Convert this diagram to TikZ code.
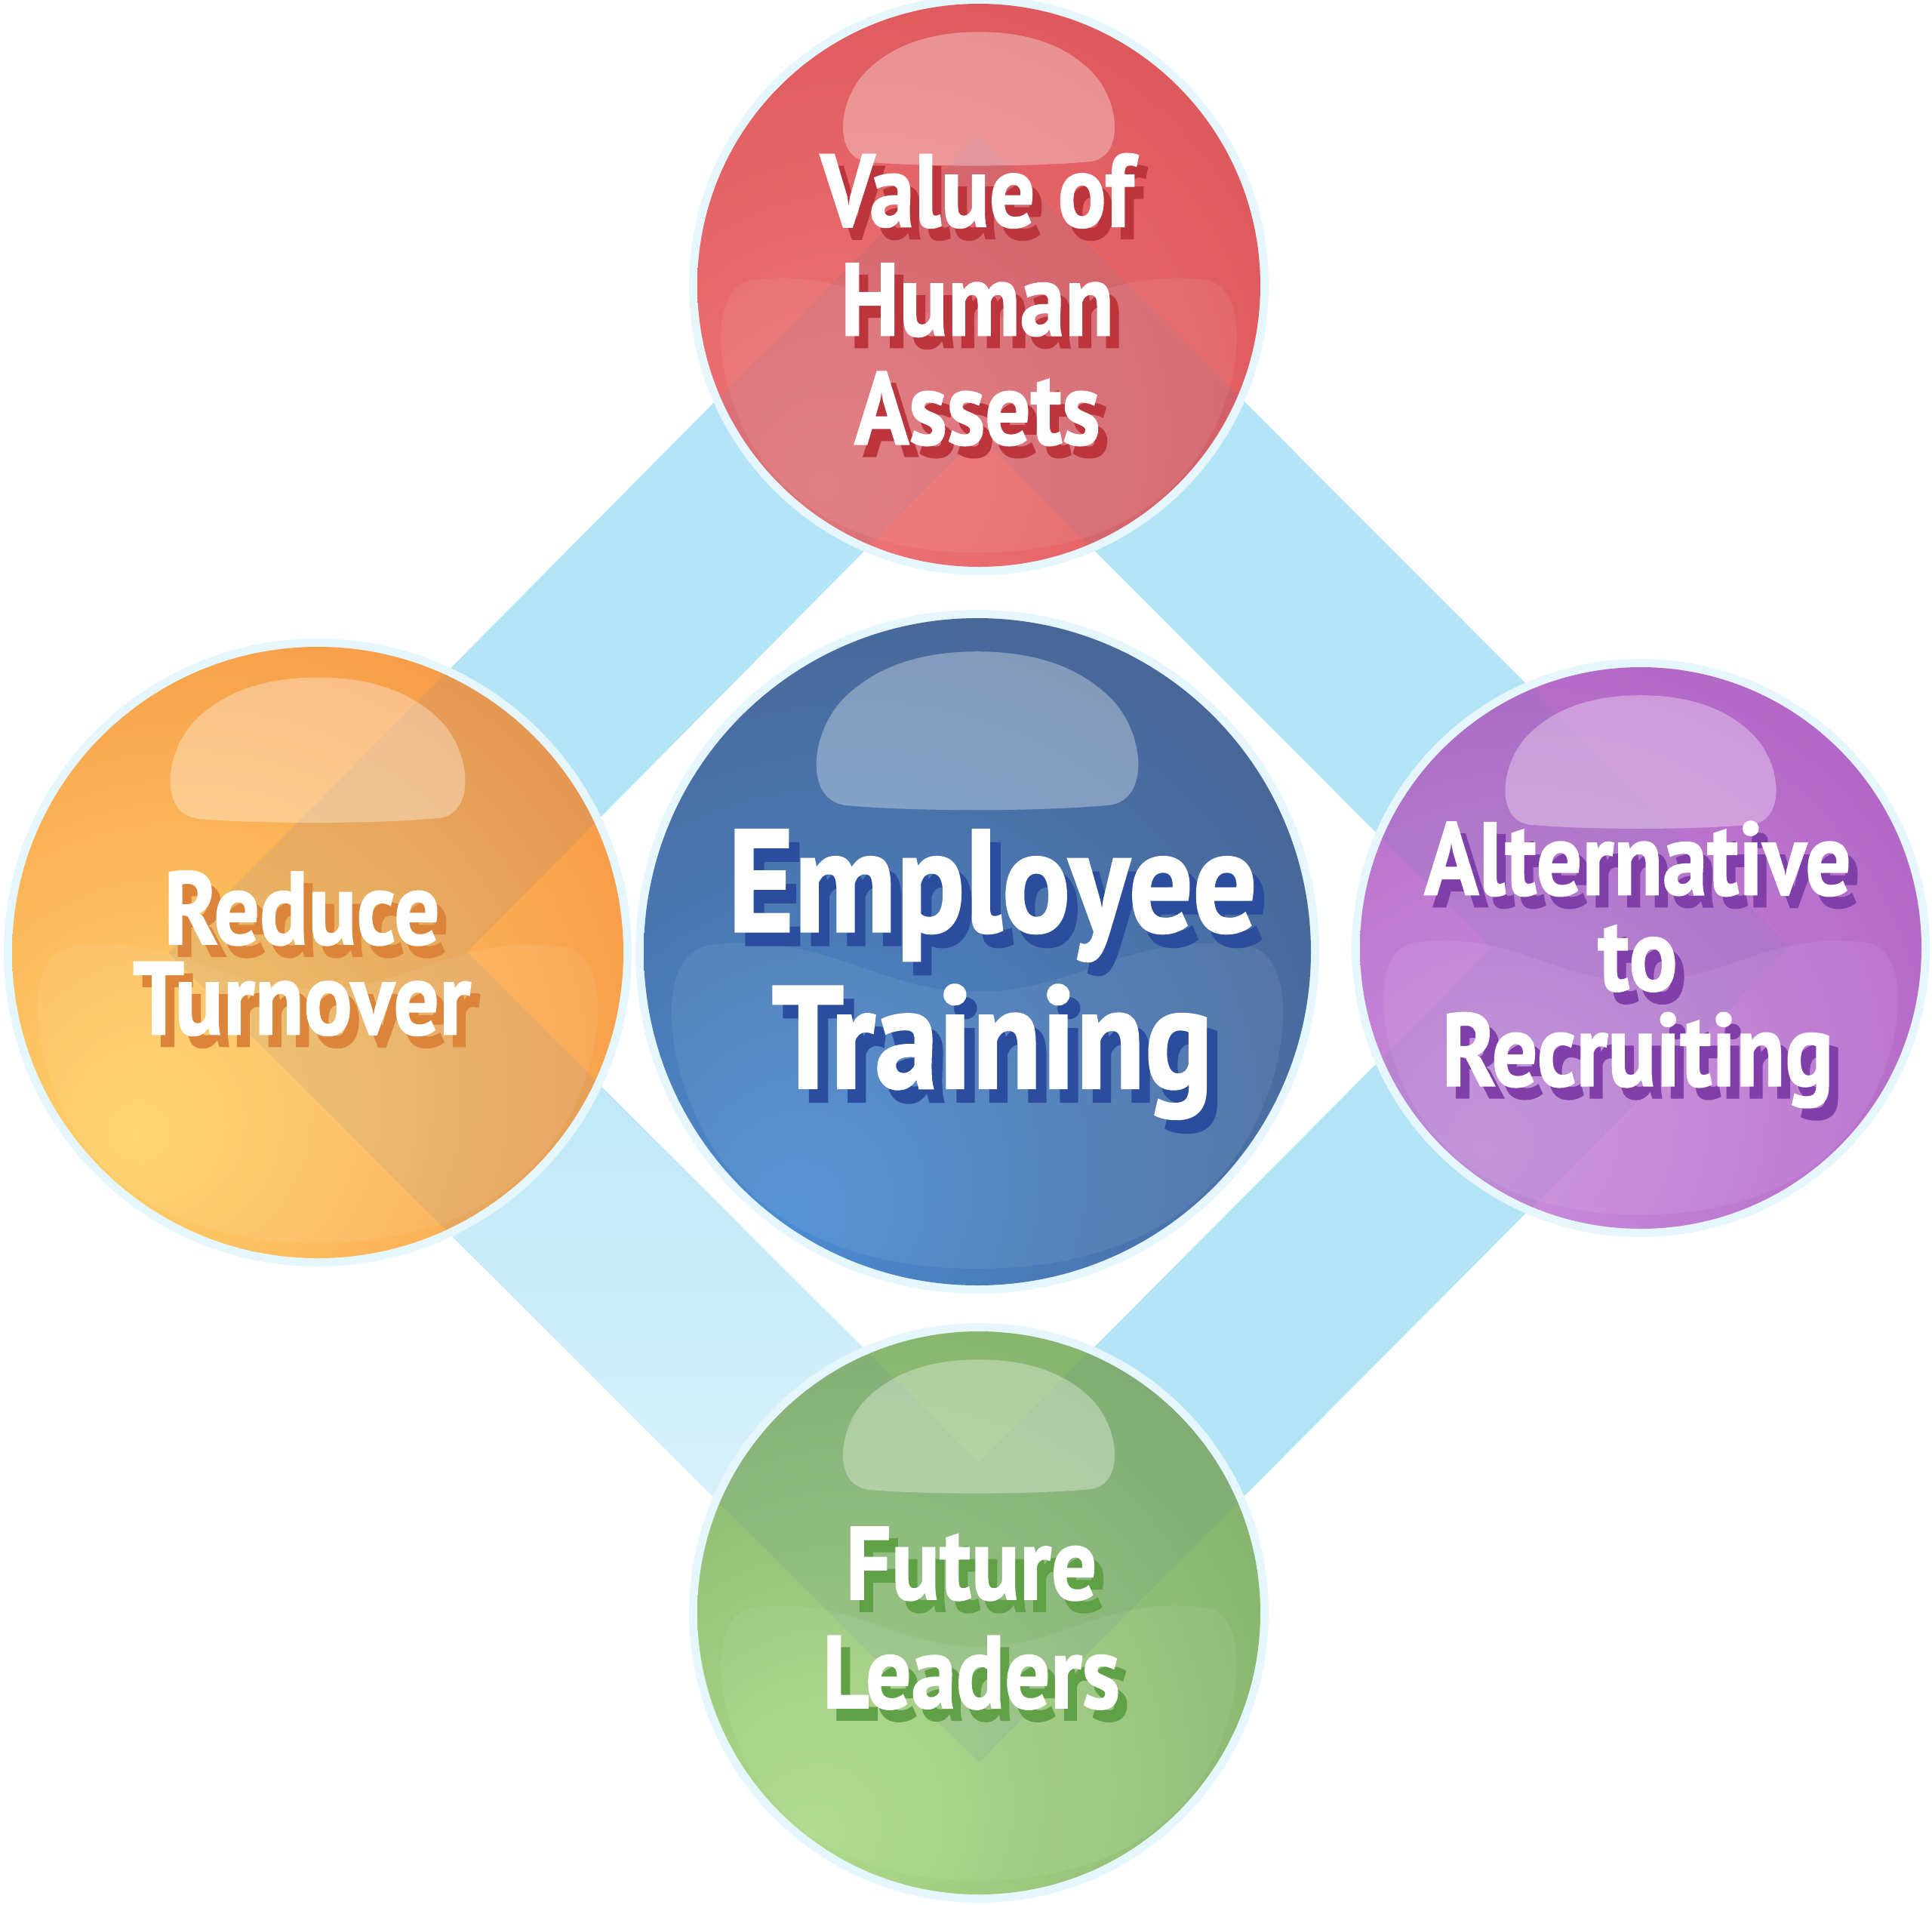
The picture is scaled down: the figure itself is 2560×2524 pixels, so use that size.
\documentclass[tikz,border=0pt]{standalone}
\usepackage{fontspec}
\newfontfamily\labelfont{PT Sans}[FakeStretch=0.87, FakeBold=1.2]
\usetikzlibrary{calc}

\definecolor{bandblue}{RGB}{180,229,247}
\definecolor{bandpale}{RGB}{226,244,252}
\definecolor{bandtint}{RGB}{90,120,170}
\definecolor{haloblue}{RGB}{230,246,253}
\definecolor{redin}{RGB}{240,120,120}
\definecolor{redout}{RGB}{221,88,92}
\definecolor{redshade}{RGB}{188,52,60}
\definecolor{orangein}{RGB}{255,212,108}
\definecolor{orangeout}{RGB}{247,154,72}
\definecolor{orangeshade}{RGB}{220,132,58}
\definecolor{corein}{RGB}{76,140,210}
\definecolor{coreout}{RGB}{72,102,150}
\definecolor{coreshade}{RGB}{44,76,158}
\definecolor{purplein}{RGB}{204,146,222}
\definecolor{purpleout}{RGB}{178,102,198}
\definecolor{purpleshade}{RGB}{128,62,168}
\definecolor{greenin}{RGB}{174,218,138}
\definecolor{greenout}{RGB}{134,180,110}
\definecolor{greenshade}{RGB}{96,160,70}

\pgfdeclareradialshading{redglow}{\pgfpoint{-14bp}{-18bp}}{color(0bp)=(redin); color(40bp)=(redout); color(100bp)=(redout)}
\pgfdeclareradialshading{orangeglow}{\pgfpoint{-15bp}{-15bp}}{color(0bp)=(orangein); color(40bp)=(orangeout); color(100bp)=(orangeout)}
\pgfdeclareradialshading{coreglow}{\pgfpoint{-14bp}{-20bp}}{color(0bp)=(corein); color(40bp)=(coreout); color(100bp)=(coreout)}
\pgfdeclareradialshading{purpleglow}{\pgfpoint{-14bp}{-18bp}}{color(0bp)=(purplein); color(40bp)=(purpleout); color(100bp)=(purpleout)}
\pgfdeclareradialshading{greenglow}{\pgfpoint{-15bp}{-20bp}}{color(0bp)=(greenin); color(40bp)=(greenout); color(100bp)=(greenout)}

\tikzset{
  band/.style={draw=bandblue, line width=2.8cm, line join=miter},
  halo/.style={fill=haloblue},
  glosscap/.style={fill=white, opacity=.33},
  glossbowl/.style={fill=white, opacity=.07},
  caption/.style={text=white, align=center, inner sep=0pt,
    font=\labelfont\bfseries\fontsize{39}{#1}\selectfont},
  caption/.default=41,
  bigcaption/.style={caption, font=\labelfont\bfseries\fontsize{55}{59}\selectfont},
}

\begin{document}
\begin{tikzpicture}[x=0.01cm, y=-0.01cm]
  \useasboundingbox (0,0) rectangle (2560,2524);
  \coordinate (value) at (1297,378);
  \coordinate (reduce) at (421,1262);
  \coordinate (core) at (1295,1261);
  \coordinate (alt) at (2174,1256);
  \coordinate (future) at (1297,2137);

  % band behind the balls
  \draw[band] (value) -- (alt) -- (future) -- (reduce) -- cycle;
  \shade[top color=bandblue, bottom color=bandpale]
    ($(reduce)!1.4cm!90:(future)$) -- ($(reduce)!1.4cm!-90:(future)$)
    -- ($(future)!1.4cm!90:(reduce)$) -- ($(future)!1.4cm!-90:(reduce)$) -- cycle;

  % balls
  \foreach \c/\r in {value/373, reduce/405, core/442, alt/372, future/373}
    \fill[halo] (\c) circle[radius=\r+11];
  \shade[shading=redglow] (value) circle[radius=373];
  \shade[shading=orangeglow] (reduce) circle[radius=405];
  \shade[shading=coreglow] (core) circle[radius=442];
  \shade[shading=purpleglow] (alt) circle[radius=372];
  \shade[shading=greenglow] (future) circle[radius=373];

  \foreach \c/\r in {value/373, reduce/405, core/442, alt/372, future/373} {
    \begin{scope}
      \clip (\c) circle[radius=\r];
      \draw[band, draw=bandtint, opacity=.11] (value) -- (alt) -- (future) -- (reduce) -- cycle;
    \end{scope}
    \begin{scope}[shift={(\c)}, scale=\r]
      \fill[glossbowl] (-.80,-.02) .. controls (-.45,-.06) and (-.30,.12) .. (0,.12)
        .. controls (.30,.12) and (.45,-.06) .. (.80,-.02)
        .. controls (.95,0) and (.93,.25) .. (.88,.40)
        .. controls (.75,.80) and (.40,.95) .. (0,.95)
        .. controls (-.40,.95) and (-.75,.80) .. (-.88,.40)
        .. controls (-.93,.25) and (-.95,0) .. cycle;
      \fill[glosscap] (-.40,-.44) .. controls (-.52,-.46) and (-.50,-.66) .. (-.40,-.76)
        .. controls (-.30,-.86) and (-.16,-.90) .. (0,-.90)
        .. controls (.16,-.90) and (.30,-.86) .. (.40,-.76)
        .. controls (.50,-.66) and (.52,-.46) .. (.40,-.44)
        .. controls (.20,-.42) and (-.20,-.42) .. cycle;
    \end{scope}
  }

  % labels
  \node[caption=41, text=redshade] (value shadow) at (1307,413) {Value of\\Human\\Assets};
  \node[caption=41] (value text) at (1295,397) {Value of\\Human\\Assets};
  \node[caption=34, text=orangeshade] (reduce shadow) at (412,1279) {Reduce\\Turnover};
  \node[caption=34] (reduce text) at (400,1263) {Reduce\\Turnover};
  \node[bigcaption, text=coreshade] (core shadow) at (1329,1309) {Employee\\Training};
  \node[bigcaption] (core text) at (1315,1291) {Employee\\Training};
  \node[caption=36, text=purpleshade] (alt shadow) at (2182,1294) {Alternative\\to\\Recruiting};
  \node[caption=36] (alt text) at (2170,1278) {Alternative\\to\\Recruiting};
  \node[caption=41, text=greenshade] (future shadow) at (1299,2160) {Future\\Leaders};
  \node[caption=41] (future text) at (1287,2144) {Future\\Leaders};
\end{tikzpicture}
\end{document}
